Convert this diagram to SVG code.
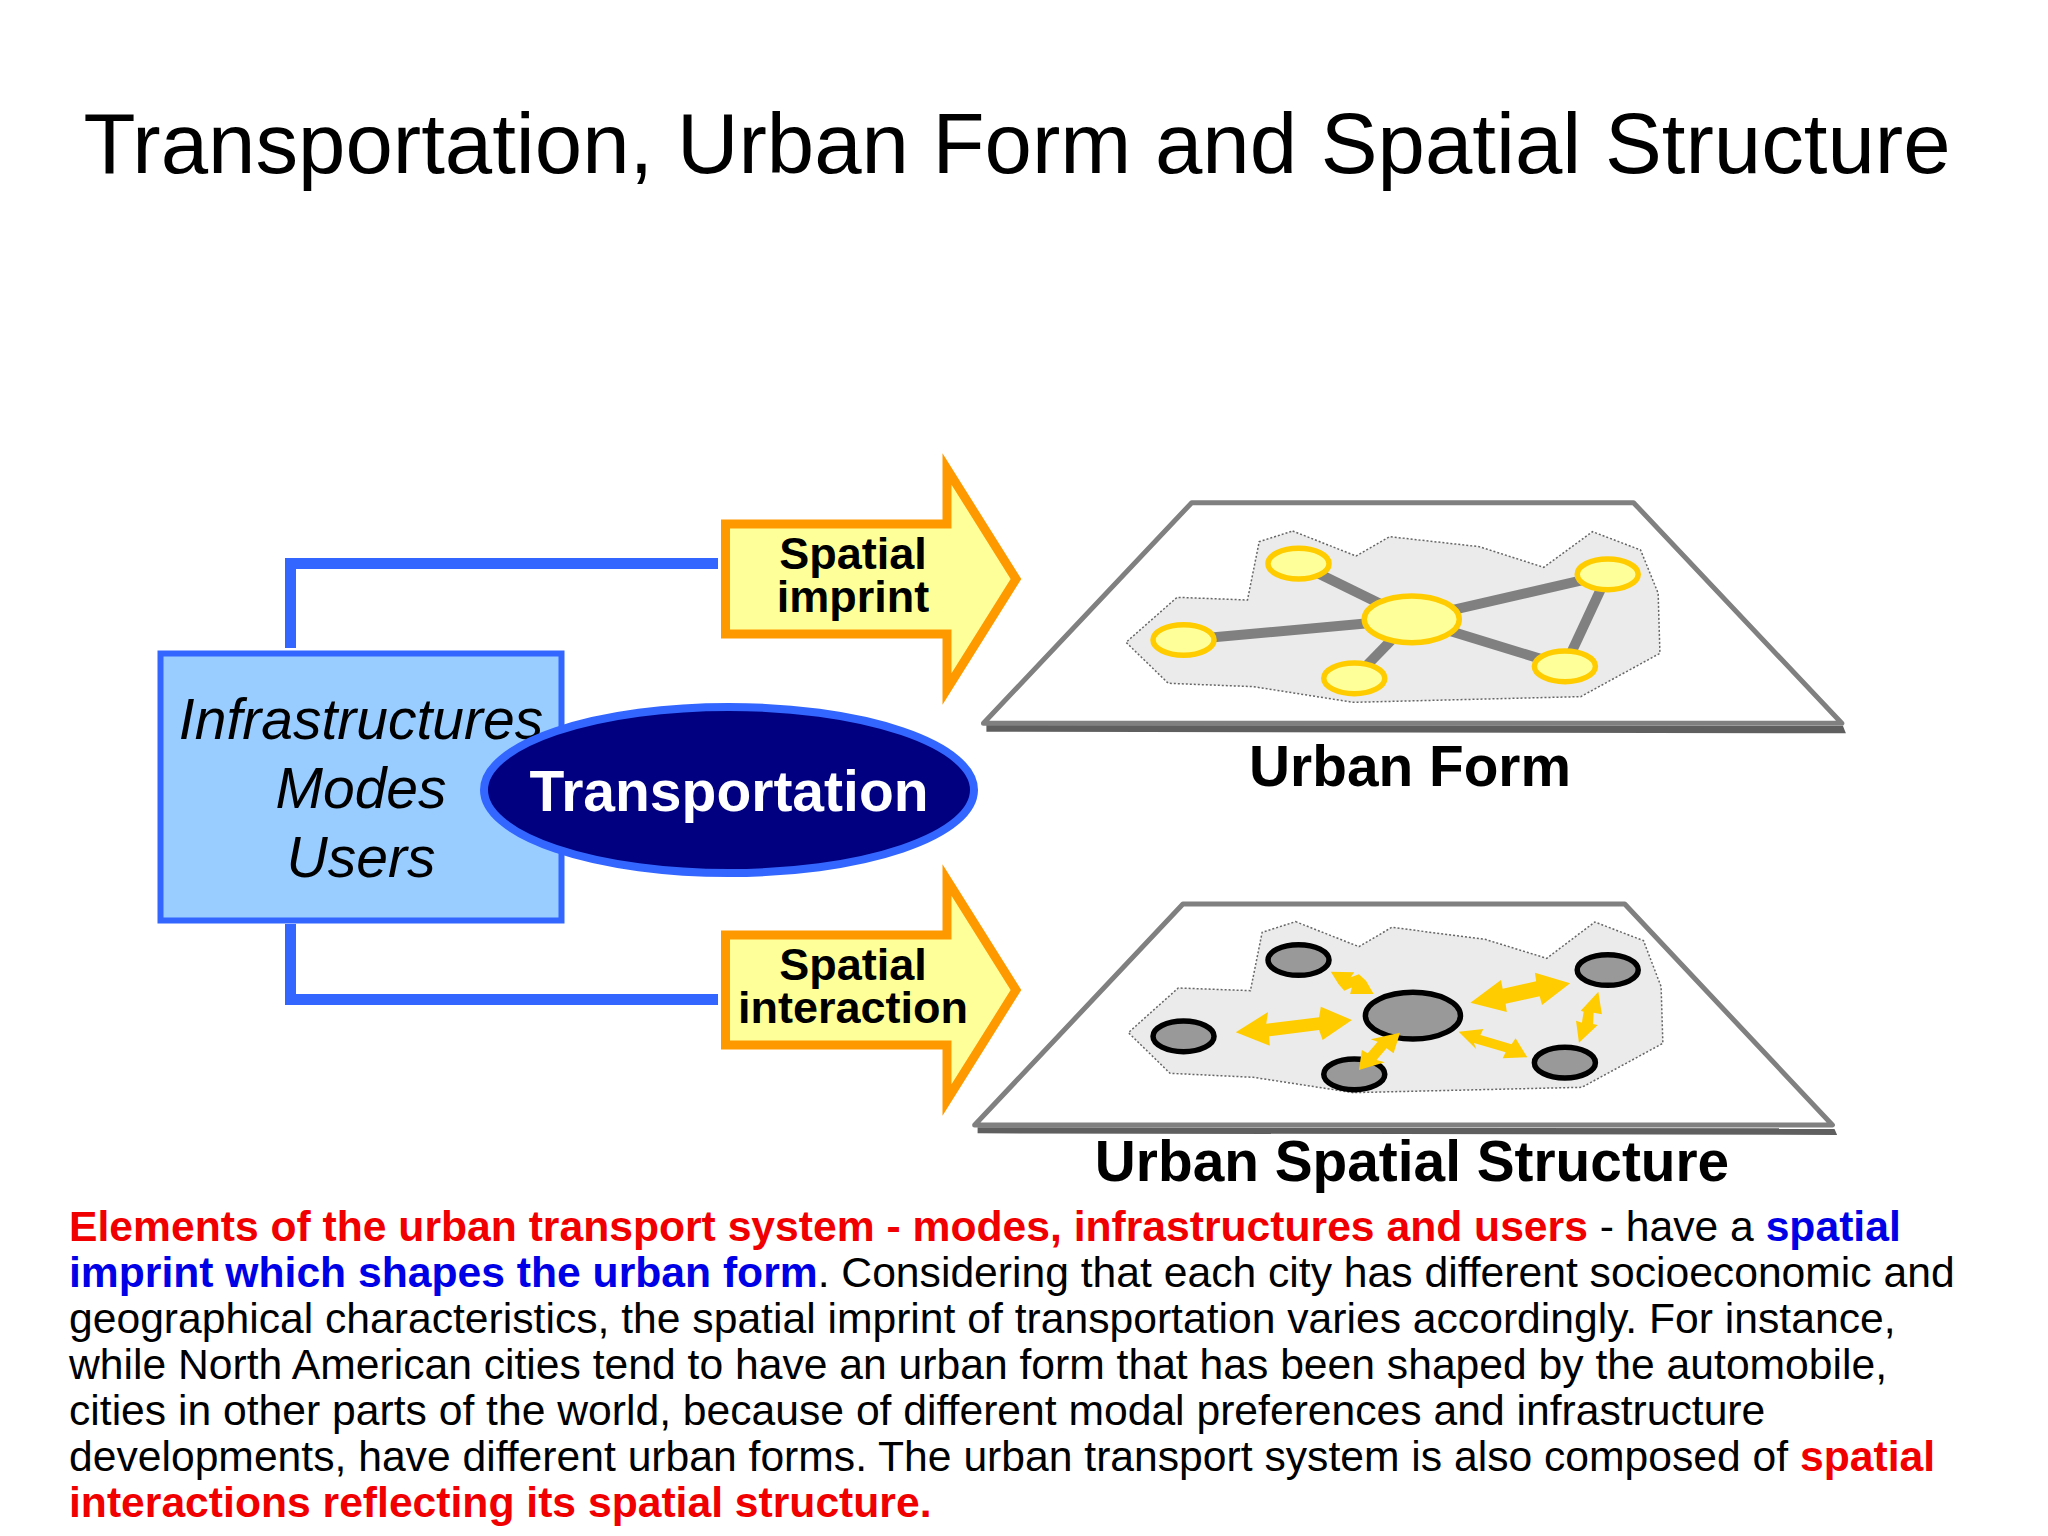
<svg xmlns="http://www.w3.org/2000/svg" width="2048" height="1536" viewBox="0 0 2048 1536">
<style>
text{font-family:"Liberation Sans",Arial,sans-serif}
.m{text-anchor:middle}
.b{font-weight:bold}
.lab{font-size:45px;font-weight:bold;text-anchor:middle}
.it{font-size:57px;font-style:italic;text-anchor:middle}
.cap{font-size:56.800px;font-weight:bold;text-anchor:middle}
.body{font-size:42.650px}
.r{fill:#f00000;font-weight:bold}
.bl{fill:#0000e6;font-weight:bold}
.ns{vector-effect:non-scaling-stroke}
.plate{fill:#fff;stroke:#808080;stroke-width:5;stroke-linejoin:round}
.bar{fill:#5f5f5f}
.blob{fill:#ebebeb;stroke:#666;stroke-width:1.500;stroke-dasharray:2 2}
.edge{stroke:#808080;fill:none;stroke-width:10}
.yn{fill:#ffff99;stroke:#ffcc00;stroke-width:5.500}
.gn{fill:#999;stroke:#000;stroke-width:5.500}
.dbl{fill:#ffcc00}
.conn{fill:none;stroke:#3366ff;stroke-width:11}
.arrow{fill:#ffff99;stroke:#ff9900;stroke-width:9}
</style>
<rect width="2048" height="1536" fill="#fff"/>
<text id="title" x="1017" y="173" class="m" font-size="85.200">Transportation, Urban Form and Spatial Structure</text>

<g id="connectors">
<path class="conn" d="M290.500 648V563.500H718"/>
<path class="conn" d="M290.500 924V999.500H718"/>
</g>

<g id="box">
<rect x="160.500" y="653.500" width="401" height="267" fill="#99ccff" stroke="#3366ff" stroke-width="6"/>
<text class="it" x="361" y="739">Infrastructures</text>
<text class="it" x="361" y="808">Modes</text>
<text class="it" x="361" y="877">Users</text>
</g>
<g id="transportation">
<ellipse cx="729" cy="790" rx="245" ry="83" fill="#000080" stroke="#3366ff" stroke-width="8"/>
<text x="729" y="811" class="m b" font-size="57" fill="#fff">Transportation</text>
</g>

<g id="imprint">
<path class="arrow" d="M725.500 524H947V469L1016 579L947 689V634H725.500Z"/>
<text class="lab" x="853" y="569">Spatial</text>
<text class="lab" x="853" y="612">imprint</text>
</g>
<g id="interaction">
<path class="arrow" d="M725.500 935H947V880L1016 990L947 1100V1045H725.500Z"/>
<text class="lab" x="853" y="980">Spatial</text>
<text class="lab" x="853" y="1023">interaction</text>
</g>

<g id="urban-form">
<g transform="translate(960 480) scale(.5867 .3333)">
<polygon class="bar" points="45,735 1505,738 1510,760 45,755"/>
<polygon class="plate ns" points="395,68 1148,68 1503,730 40,730"/>
<polygon class="blob ns" points="567,153 675,228 732,170 885,200 995,262 1078,155 1160,210 1190,340 1193,520 1058,650 670,667 500,620 355,610 283,487 370,352 490,360 510,185"/>
<g class="edge">
<line class="ns" x1="577" y1="251" x2="770" y2="418"/>
<line class="ns" x1="1104" y1="283" x2="770" y2="418"/>
<line class="ns" x1="381" y1="480" x2="770" y2="418"/>
<line class="ns" x1="672" y1="595" x2="770" y2="418"/>
<line class="ns" x1="1031" y1="559" x2="770" y2="418"/>
<line class="ns" x1="1104" y1="283" x2="1031" y2="559"/>
</g>
<ellipse class="yn ns" cx="577" cy="251" rx="52" ry="46"/>
<ellipse class="yn ns" cx="1104" cy="283" rx="52" ry="46"/>
<ellipse class="yn ns" cx="770" cy="418" rx="81" ry="70"/>
<ellipse class="yn ns" cx="381" cy="480" rx="52" ry="46"/>
<ellipse class="yn ns" cx="672" cy="595" rx="52" ry="46"/>
<ellipse class="yn ns" cx="1031" cy="559" rx="52" ry="46"/>
</g>
<text class="cap" x="1410" y="786">Urban Form</text>
</g>

<g id="urban-structure">
<g transform="translate(960 880) scale(.5867 .3333)">
<polygon class="bar" points="30,742 1490,745 1495,765 30,760"/>
<polygon class="plate ns" points="380,72 1133,72 1487,735 25,735"/>
<polygon class="blob ns" points="572,125 680,200 736,142 895,178 1000,235 1082,126 1165,182 1195,320 1198,490 1060,622 670,638 500,592 358,580 287,458 372,324 495,332 515,157"/>
<ellipse class="gn ns" cx="577" cy="240" rx="52" ry="46"/>
<ellipse class="gn ns" cx="1104" cy="270" rx="52" ry="46"/>
<ellipse class="gn ns" cx="772" cy="407" rx="81" ry="70"/>
<ellipse class="gn ns" cx="381" cy="469" rx="52" ry="46"/>
<ellipse class="gn ns" cx="672" cy="583" rx="52" ry="46"/>
<ellipse class="gn ns" cx="1031" cy="548" rx="52" ry="46"/>
<polygon class="dbl" points="470,457 525,396 522,431 612,412 615,380 668,420 618,480 612,450 527,469 528,497"/>
<polygon class="dbl" points="870,368 922,300 925,326 982,304 980,278 1040,310 992,375 988,349 930,371 932,396"/>
<polygon class="dbl" points="632,275 672,277 666,292 680,283 692,302 705,342 665,342 668,322 655,332 645,312"/>
<polygon class="dbl" points="1088,335 1094,403 1080,398 1079,432 1087,435 1055,488 1050,422 1060,428 1063,395 1058,392"/>
<polygon class="dbl" points="850,455 892,447 887,465 940,493 947,475 967,532 925,535 930,517 876,489 880,508"/>
<polygon class="dbl" points="750,458 739,520 727,505 710,540 724,547 680,570 685,510 695,520 712,485 700,478"/>
</g>
<text class="cap" x="1412" y="1181">Urban Spatial Structure</text>
</g>

<g id="caption" class="body">
<text class="body" x="69" y="1241"><tspan class="r">Elements of the urban transport system - modes, infrastructures and users</tspan> - have a <tspan class="bl">spatial</tspan></text>
<text class="body" x="69" y="1287"><tspan class="bl">imprint which shapes the urban form</tspan>. Considering that each city has different socioeconomic and</text>
<text class="body" x="69" y="1333">geographical characteristics, the spatial imprint of transportation varies accordingly. For instance,</text>
<text class="body" x="69" y="1379">while North American cities tend to have an urban form that has been shaped by the automobile,</text>
<text class="body" x="69" y="1425">cities in other parts of the world, because of different modal preferences and infrastructure</text>
<text class="body" x="69" y="1471">developments, have different urban forms. The urban transport system is also composed of <tspan class="r">spatial</tspan></text>
<text class="body" x="69" y="1517"><tspan class="r">interactions reflecting its spatial structure.</tspan></text>
</g>
</svg>
